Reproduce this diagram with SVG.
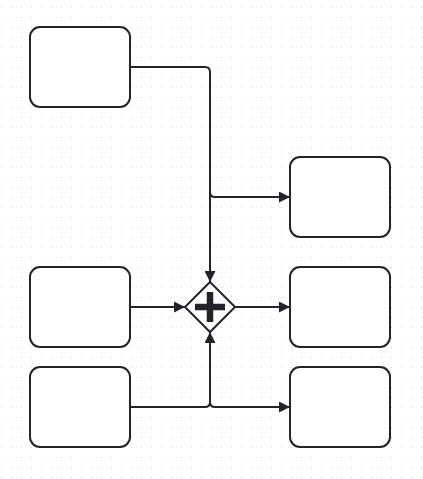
<svg xmlns="http://www.w3.org/2000/svg" width="423" height="479" viewBox="0 0 423 479">
<defs>
<pattern id="grid" x="1" y="7" width="10" height="10" patternUnits="userSpaceOnUse">
<rect x="0" y="0" width="1" height="1" fill="#d0d0d0"/>
</pattern>
<marker id="arr" viewBox="0 0 10 10" refX="10" refY="5" markerWidth="11" markerHeight="11" markerUnits="userSpaceOnUse" orient="auto">
<path d="M0,0 L10,5 L0,10 Z" fill="#22242a"/>
</marker>
<style>
.task{fill:#fff;stroke:#22242a;stroke-width:2}
.conn{fill:none;stroke:#22242a;stroke-width:2}
</style>
</defs>
<rect width="423" height="479" fill="#fff"/>
<rect width="423" height="479" fill="url(#grid)"/>
<g id="connectors">
<path class="conn" d="M130,67 L205,67 Q210,67 210,72 L210,282" marker-end="url(#arr)"/>
<path class="conn" d="M210,192 Q210,197 215,197 L290,197" marker-end="url(#arr)"/>
<path class="conn" d="M130,307 L185,307" marker-end="url(#arr)"/>
<path class="conn" d="M235,307 L290,307" marker-end="url(#arr)"/>
<path class="conn" d="M130,407 L205,407 Q210,407 210,402 L210,332" marker-end="url(#arr)"/>
<path class="conn" d="M210,402 Q210,407 215,407 L290,407" marker-end="url(#arr)"/>
</g>
<g id="task1"><rect class="task" x="30" y="27" width="100" height="80" rx="10"/></g>
<g id="task2"><rect class="task" x="290" y="157" width="100" height="80" rx="10"/></g>
<g id="task3"><rect class="task" x="30" y="267" width="100" height="80" rx="10"/></g>
<g id="task4"><rect class="task" x="290" y="267" width="100" height="80" rx="10"/></g>
<g id="task5"><rect class="task" x="30" y="367" width="100" height="80" rx="10"/></g>
<g id="task6"><rect class="task" x="290" y="367" width="100" height="80" rx="10"/></g>
<g id="gateway">
<path d="M210,282 L235,307 L210,332 L185,307 Z" fill="#fff" stroke="#22242a" stroke-width="2"/>
<path d="M195,307 L225,307 M210,292 L210,322" stroke="#22242a" stroke-width="6.5"/>
</g>
</svg>
